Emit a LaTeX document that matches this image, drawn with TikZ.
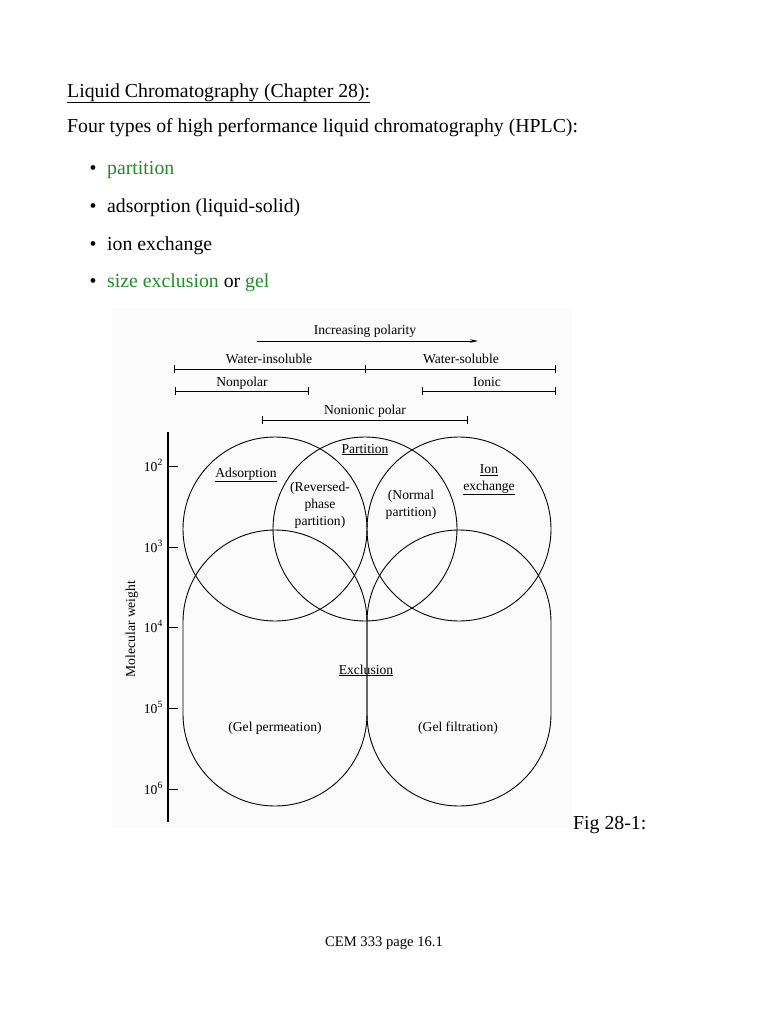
\documentclass[tikz,border=0pt]{standalone}
\usepackage{fontspec}
\setmainfont{Liberation Serif}
\usepackage{xcolor}
\usepackage{tikz}
\usetikzlibrary{positioning,arrows.meta,calc}
\definecolor{hplcgreen}{RGB}{34,139,34}

\begin{document}
\begin{tikzpicture}[x=1pt, y=-1pt,
  pagetxt/.style={inner sep=0pt, anchor=base west, font=\fontsize{19.8}{24}\selectfont},
  figtxt/.style={inner sep=0pt, anchor=base, font=\fontsize{13.6}{16.7}\selectfont, align=center},
  rangebar/.style={line width=0.8pt, {Bar[width=8pt]}-{Bar[width=8pt]}},
  ring/.style={line width=0.9pt}]
\useasboundingbox (0,0) rectangle (768,1024);
% page text
\node[pagetxt] (title) at (67,97.5) {Liquid Chromatography (Chapter 28):};
\draw[line width=0.8pt] ([yshift=-4.5pt]title.base west) -- ([yshift=-4.5pt]title.base east);
\node[pagetxt] (intro) at (67,133) {Four types of high performance liquid chromatography (HPLC):};
\node[pagetxt, anchor=base] (b1) at (93,175) {\textbullet};
\node[pagetxt, text=hplcgreen] (t1) at (107,175) {partition};
\node[pagetxt, anchor=base] (b2) at (93,212.5) {\textbullet};
\node[pagetxt] (t2) at (107,212.5) {adsorption (liquid-solid)};
\node[pagetxt, anchor=base] (b3) at (93,250) {\textbullet};
\node[pagetxt] (t3) at (107,250) {ion exchange};
\node[pagetxt, anchor=base] (b4) at (93,287) {\textbullet};
\node[pagetxt] (t4) at (107,287) {\textcolor{hplcgreen}{size exclusion} or \textcolor{hplcgreen}{gel}};
\node[pagetxt] (figno) at (573,829) {Fig 28-1:};
\node[pagetxt, font=\fontsize{14.6}{17}\selectfont] (pageno) at (325,946.5) {CEM 333 page 16.1};
% figure background
\fill[black!1.5] (112,308) rectangle (572,828);
% polarity scale
\node[figtxt] (pol) at (365,334) {Increasing polarity};
\coordinate (polL) at (257,341);
\coordinate (polR) at (478,341);
\draw[line width=0.8pt, -{Stealth[length=8pt,width=3.5pt]}] (polL) -- (polR);
\node[figtxt] (wins) at (269,363) {Water-insoluble};
\node[figtxt] (wsol) at (461,363) {Water-soluble};
\coordinate (wL) at (174,369);
\coordinate (wM) at (365,369);
\coordinate (wR) at (556,369);
\draw[rangebar] (wL) -- (wR);
\draw[line width=0.8pt] ($(wM)+(0,-4)$) -- ($(wM)+(0,4)$);
\node[figtxt] (npol) at (242,386) {Nonpolar};
\coordinate (npL) at (175,391);
\coordinate (npR) at (309,391);
\draw[rangebar] (npL) -- (npR);
\node[figtxt] (ionic) at (487,386) {Ionic};
\coordinate (ioL) at (422,391);
\coordinate (ioR) at (556,391);
\draw[rangebar] (ioL) -- (ioR);
\node[figtxt] (nion) at (365,414) {Nonionic polar};
\coordinate (niL) at (262,420);
\coordinate (niR) at (468,420);
\draw[rangebar] (niL) -- (niR);
% molecular weight axis
\coordinate (axT) at (168,432);
\coordinate (axB) at (168,822);
\draw[line width=1.4pt] (axT) -- (axB);
\foreach \e/\yy in {2/466,3/547,4/627,5/708,6/789}{
  \draw[line width=0.8pt] (168,\yy) -- (178,\yy);
  \node[figtxt, anchor=base east] (mw\e) at (163,\yy+5) {10\textsuperscript{\e}};
}
\node[figtxt, rotate=90] (mwlbl) at (135,629) {Molecular weight};
% upper circles
\draw[ring] (275,529) circle[radius=92];
\draw[ring] (365,529) circle[radius=92];
\draw[ring] (459,529) circle[radius=92];
% lower (exclusion) shapes
\draw[ring] (367,622) arc[start angle=0, end angle=-180, radius=92]
  -- (183,714) arc[start angle=180, end angle=0, radius=92] -- cycle;
\draw[ring] (551,622) arc[start angle=0, end angle=-180, radius=92]
  -- (367,714) arc[start angle=180, end angle=0, radius=92] -- cycle;
% region labels
\node[figtxt] (part) at (365,453) {\underline{Partition}};
\node[figtxt] (ads) at (246,477) {\underline{Adsorption}};
\node[figtxt] (rev) at (320,525) {(Reversed-\\phase\\partition)};
\node[figtxt] (norm) at (411,516) {(Normal\\partition)};
\node[figtxt] (ionx) at (489,490) {\underline{Ion}\\\underline{exchange}};
\node[figtxt] (excl) at (366,674) {\underline{Exclusion}};
\node[figtxt] (gelp) at (275,731) {(Gel permeation)};
\node[figtxt] (gelf) at (458,731) {(Gel filtration)};
\end{tikzpicture}
\end{document}
